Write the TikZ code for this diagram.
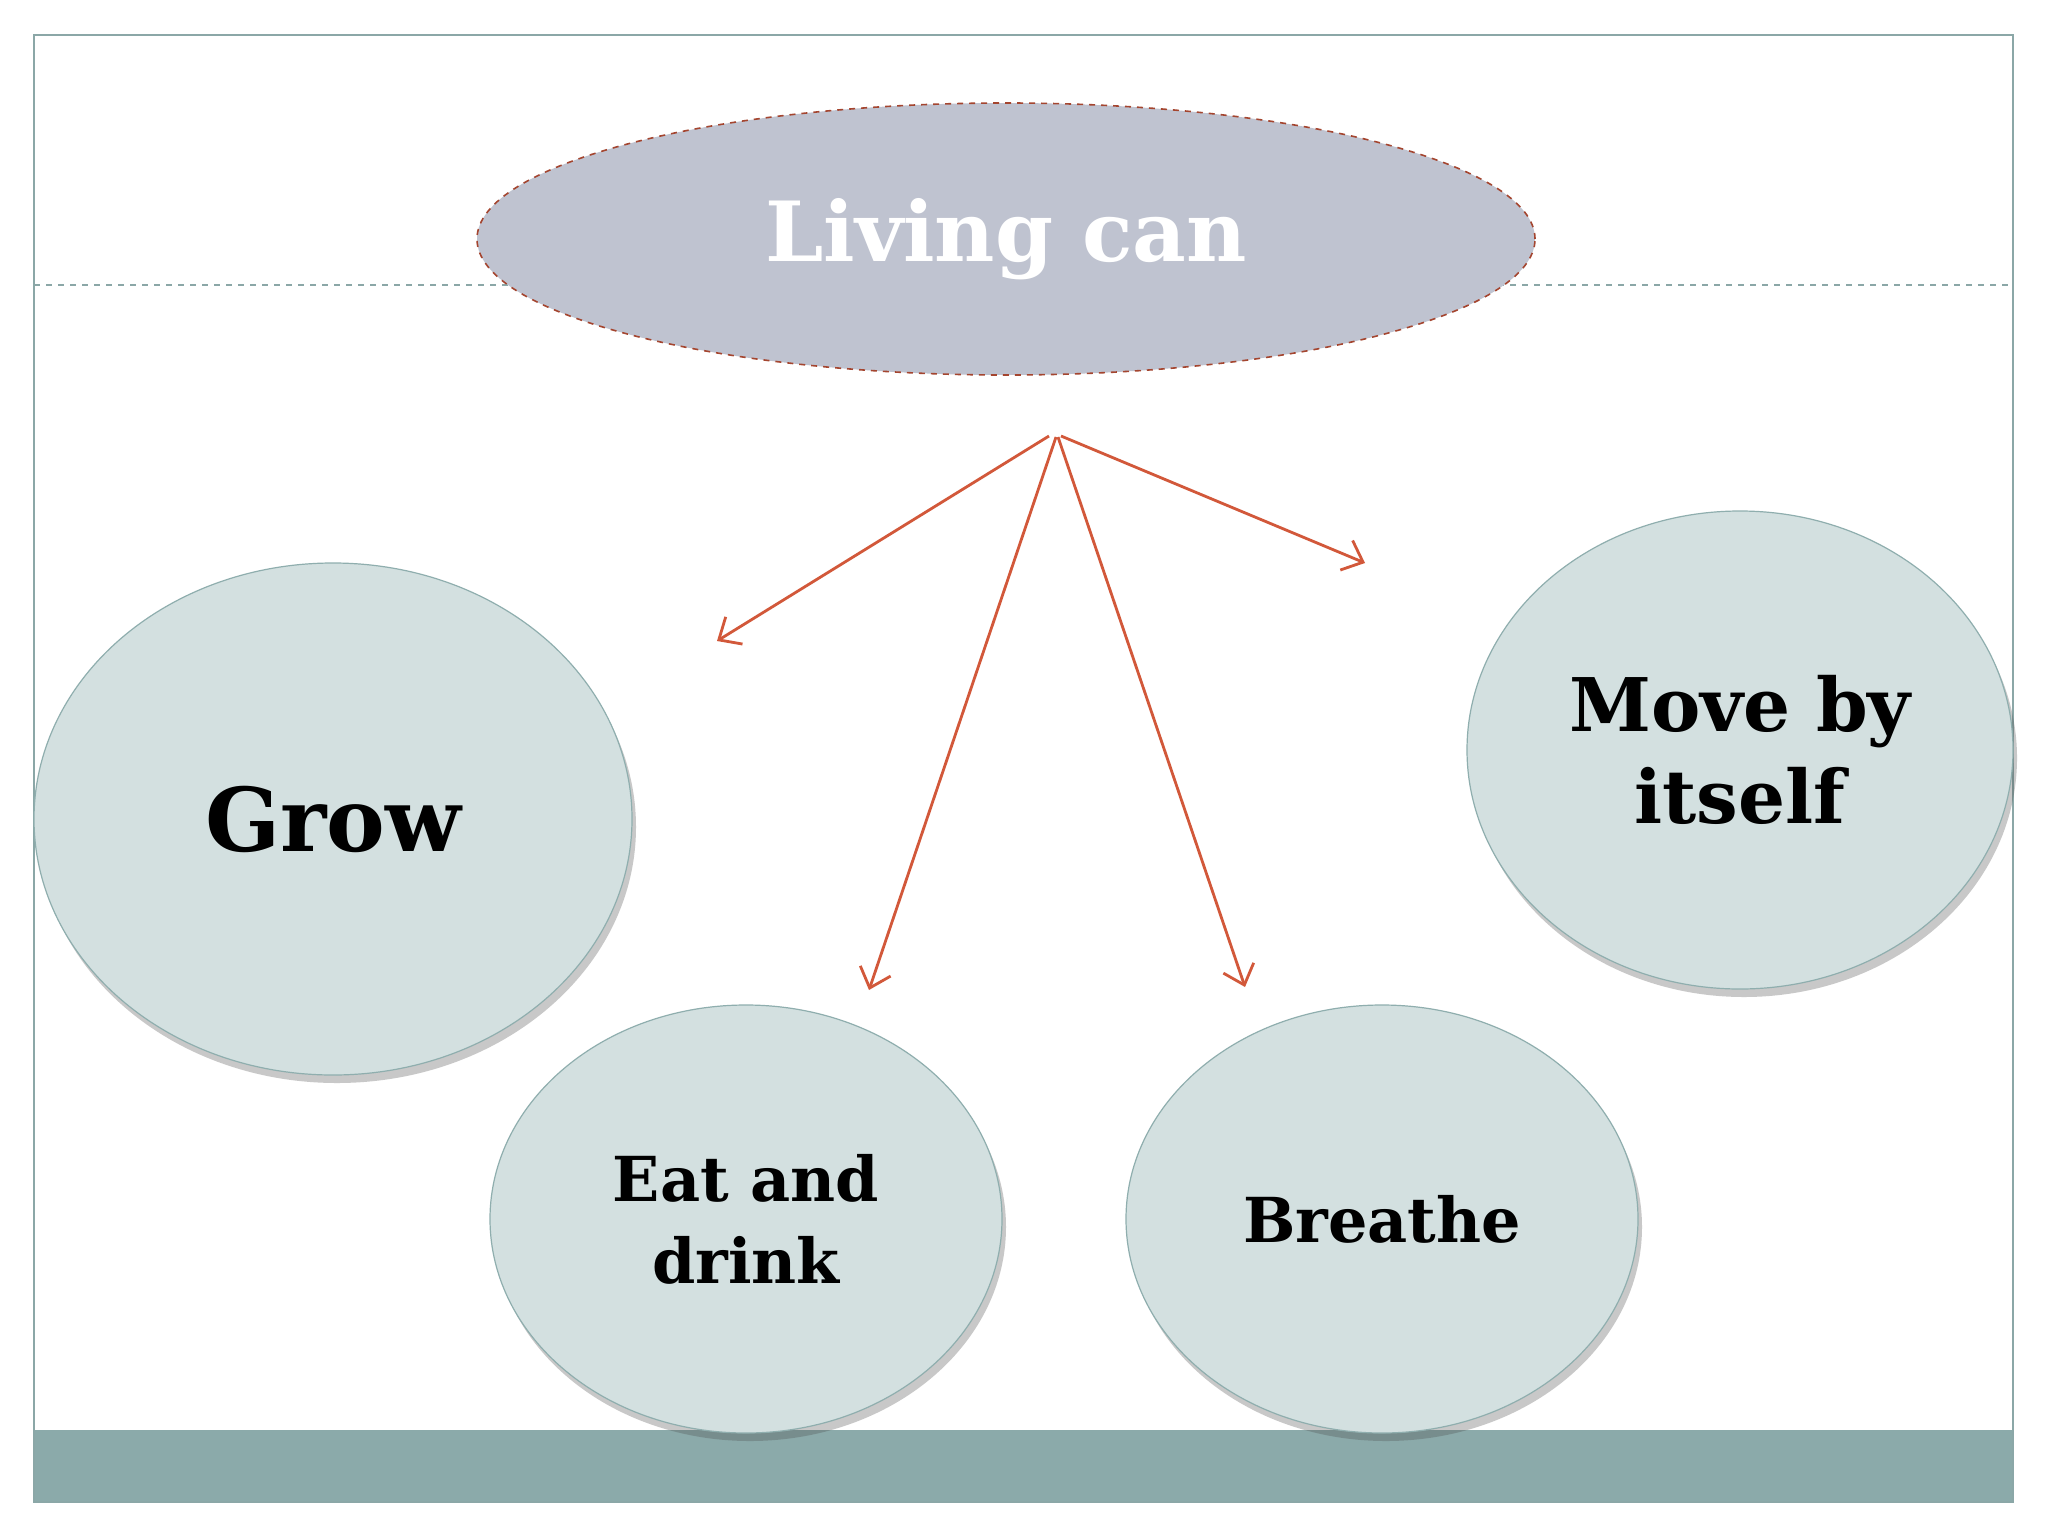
\documentclass[tikz,border=0pt]{standalone}
\usepackage{fontspec}
\setmainfont{DejaVu Serif}
\usetikzlibrary{shapes.geometric,arrows.meta,shadows}
\definecolor{bubble}{HTML}{D3E0E0}
\definecolor{bubbleline}{HTML}{8FAEAE}
\definecolor{topfill}{HTML}{BFC3D0}
\definecolor{topline}{HTML}{A4452F}
\definecolor{framec}{HTML}{8BA7A7}
\definecolor{barc}{HTML}{8BAAAA}
\definecolor{arrowc}{HTML}{D2583A}
\tikzset{
  bubblenode/.style={ellipse, fill=bubble, draw=bubbleline, line width=0.6pt,
    inner sep=0pt, align=center, font=\bfseries,
    drop shadow={shadow xshift=2pt, shadow yshift=-4pt, opacity=0.3, fill=black!70}},
  topnode/.style={ellipse, fill=topfill, draw=topline, dashed, line width=0.8pt,
    inner sep=0pt, text=white, font=\bfseries\fontsize{41.5}{48}\selectfont},
  linkarrow/.style={draw=arrowc, line width=1.4pt, -{Straight Barb[length=9pt,width=16pt,line width=1.4pt]}}
}
\begin{document}
\begin{tikzpicture}[x=0.5pt,y=-0.5pt]
\useasboundingbox (0,0) rectangle (2048,1536);
\fill[white] (0,0) rectangle (2048,1536);
% frame and bar
\fill[barc] (34,1430) rectangle (2013,1502);
\draw[framec, line width=1pt] (34,35) rectangle (2013,1502);
\draw[framec, dashed, line width=1pt] (34,285) -- (2013,285);
% top ellipse
\node[topnode, minimum width=529pt, minimum height=136pt] (top) at (1006,239) {Living can};
% bubbles
\node[bubblenode, minimum width=299pt, minimum height=256pt,
  font=\bfseries\fontsize{44}{50}\selectfont] (grow) at (333,819) {Grow};
\node[bubblenode, minimum width=256pt, minimum height=214pt,
  font=\bfseries\fontsize{31}{41}\selectfont] (eat) at (746,1219) {Eat and\\drink};
\node[bubblenode, minimum width=256pt, minimum height=214pt,
  font=\bfseries\fontsize{31}{40}\selectfont] (breathe) at (1382,1219) {Breathe};
\node[bubblenode, minimum width=273pt, minimum height=239pt,
  font=\bfseries\fontsize{37}{46}\selectfont] (move) at (1740,750) {Move by\\itself};
% arrows
\coordinate (s1) at (1049,436);
\coordinate (s2) at (1056,437);
\coordinate (s3) at (1058,437);
\coordinate (s4) at (1061,436);
\coordinate (e1) at (717,641);
\coordinate (e2) at (869,990);
\coordinate (e3) at (1245,987);
\coordinate (e4) at (1365,563);
\draw[linkarrow] (s1) -- (e1);
\draw[linkarrow] (s2) -- (e2);
\draw[linkarrow] (s3) -- (e3);
\draw[linkarrow] (s4) -- (e4);
\end{tikzpicture}
\end{document}
